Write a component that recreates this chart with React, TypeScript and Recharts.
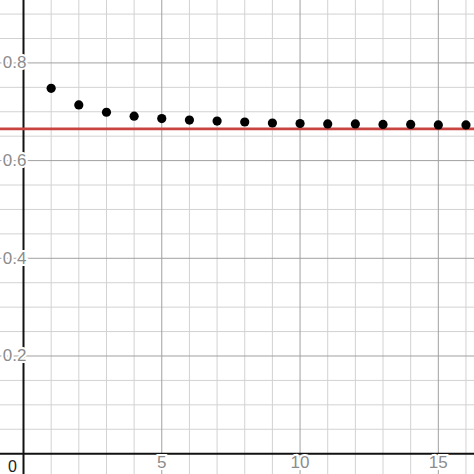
import React from 'react'
import {
  ScatterChart,
  Scatter,
  XAxis,
  YAxis,
  ReferenceLine,
  ReferenceDot,
} from 'recharts'

// sequence terms
const nValues = [1, 2, 3, 4, 5, 6, 7, 8, 9, 10, 11, 12, 13, 14, 15, 16]
const termValues = [
  0.748, 0.714, 0.699, 0.691, 0.686, 0.683, 0.681, 0.679, 0.677, 0.676, 0.675,
  0.675, 0.674, 0.674, 0.673, 0.673,
]
const limitValue = 0.665

// grid / tick values
const xMinorLines = [1, 2, 3, 4, 6, 7, 8, 9, 11, 12, 13, 14, 16]
const xMajorLines = [5, 10, 15]
const yMinorLines = [
  0.05, 0.1, 0.15, 0.25, 0.3, 0.35, 0.45, 0.5, 0.55, 0.65, 0.7, 0.75, 0.85, 0.9,
]
const yMajorLines = [0.2, 0.4, 0.6, 0.8]
const xTickLabels = ['5', '10', '15']
const yTickLabels = ['0.2', '0.4', '0.6', '0.8']

const xDomain = [-0.85, 16.29]
const yDomain = [-0.0416, 0.9288]

const points = nValues.map((n, i) => ({ x: n, y: termValues[i] }))

const FONT = '"Liberation Sans", Arial, sans-serif'

const dotShape = (props: any) => (
  <circle cx={props.cx} cy={props.cy} r={4.6} fill="#000" />
)

const yLabel = (text: string) => (props: any) => {
  const { x, y, width, height } = props.viewBox
  return (
    <text
      x={x + width / 2 + 3}
      y={y + height / 2}
      textAnchor="end"
      dominantBaseline="central"
      fontFamily={FONT}
      fontSize={17}
      fill="#8c8c8c"
      stroke="#fff"
      strokeWidth={4}
      paintOrder="stroke"
    >
      {text}
    </text>
  )
}

const xLabel = (text: string) => (props: any) => {
  const { x, y, width, height } = props.viewBox
  return (
    <text
      x={x + width / 2}
      y={y + height / 2 + 14}
      textAnchor="middle"
      fontFamily={FONT}
      fontSize={17}
      fill="#8c8c8c"
      stroke="#fff"
      strokeWidth={4}
      paintOrder="stroke"
    >
      {text}
    </text>
  )
}

const originLabel = (props: any) => {
  const { x, y, width, height } = props.viewBox
  return (
    <text
      x={x + width / 2 - 11}
      y={y + height / 2 + 18.5}
      textAnchor="middle"
      fontFamily={FONT}
      fontSize={16}
      fill="#222"
    >
      0
    </text>
  )
}

export default function App() {
  return (
    <div style={{ position: 'absolute', left: 0, top: 0, width: 474, height: 474, background: '#fff' }}>
      <ScatterChart width={474} height={474} margin={{ top: 0, right: 0, bottom: 0, left: 0 }}>
        <XAxis type="number" dataKey="x" domain={xDomain} allowDataOverflow hide />
        <YAxis type="number" dataKey="y" domain={yDomain} allowDataOverflow hide />
        {xMinorLines.map((v) => (
          <ReferenceLine key={'xm' + v} x={v} stroke="#d2d2d2" strokeWidth={1} />
        ))}
        {yMinorLines.map((v) => (
          <ReferenceLine key={'ym' + v} y={v} stroke="#d2d2d2" strokeWidth={1} />
        ))}
        {xMajorLines.map((v) => (
          <ReferenceLine key={'xM' + v} x={v} stroke="#a0a0a0" strokeWidth={1} />
        ))}
        {yMajorLines.map((v) => (
          <ReferenceLine key={'yM' + v} y={v} stroke="#a0a0a0" strokeWidth={1} />
        ))}
        {yMajorLines.map((v, i) => (
          <ReferenceDot key={'yl' + v} x={0} y={v} r={1} fill="none" stroke="none" label={yLabel(yTickLabels[i])} />
        ))}
        {xMajorLines.map((v, i) => (
          <ReferenceDot key={'xl' + v} x={v} y={0} r={1} fill="none" stroke="none" label={xLabel(xTickLabels[i])} />
        ))}
        <ReferenceDot x={0} y={0} r={1} fill="none" stroke="none" label={originLabel} />
        <ReferenceLine x={0} stroke="#111" strokeWidth={2} />
        <ReferenceLine y={0} stroke="#111" strokeWidth={2} />
        <ReferenceLine y={limitValue} stroke="#c74440" strokeWidth={2.6} />
        <Scatter data={points} shape={dotShape} isAnimationActive={false} />
      </ScatterChart>
    </div>
  )
}
